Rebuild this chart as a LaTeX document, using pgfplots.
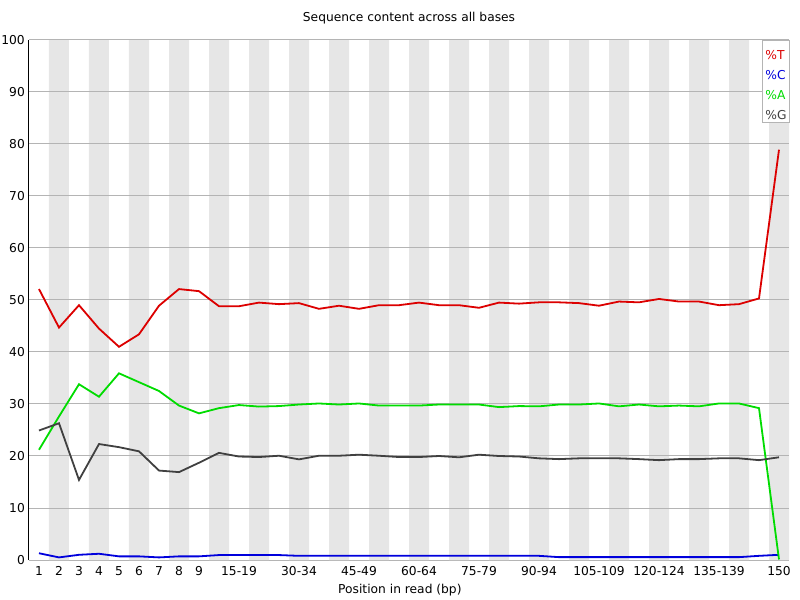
\documentclass[border=0pt]{standalone}
\usepackage{fontspec}
\setmainfont{DejaVu Sans}
\usepackage{pgfplots}
\pgfplotsset{compat=1.18}
\definecolor{cT}{RGB}{220,0,0}
\definecolor{cC}{RGB}{0,0,220}
\definecolor{cA}{RGB}{0,220,0}
\definecolor{cG}{RGB}{64,64,64}
\definecolor{stripe}{RGB}{230,230,230}
\definecolor{gridgray}{RGB}{180,180,180}
\begin{document}
\begin{tikzpicture}[font=\fontsize{12.3}{14}\selectfont]
\useasboundingbox (-29bp,-40bp) rectangle (771bp,560bp);
\begin{axis}[
  at={(0,0)}, anchor=south west,
  scale only axis, width=760bp, height=520bp,
  xmin=0.5, xmax=38.5, ymin=0, ymax=100,
  axis x line=bottom, axis y line=left,
  x axis line style={-, draw=gridgray, line width=1bp},
  y axis line style={-, draw=black, line width=1bp},
  major tick length=0pt,
  xtick={1,2,3,4,5,6,7,8,9,11,14,17,20,23,26,29,32,35,38},
  xticklabels={{1},{2},{3},{4},{5},{6},{7},{8},{9},{15-19},{30-34},{45-49},{60-64},{75-79},{90-94},{105-109},{120-124},{135-139},{150}},
  ytick={0,10,...,100},
  /pgf/number format/assume math mode=true,
  xticklabel style={anchor=base, yshift=-15bp},
  yticklabel style={anchor=east, inner sep=0pt, xshift=-4bp},
  title={Sequence content across all bases},
  title style={at={(0.5,1)}, anchor=base, yshift=12.5bp},
  xlabel={Position in read (bp)},
  xlabel style={at={(0.488,0)}, anchor=base, yshift=-33bp},
  legend image code/.code={},
  legend cell align=left,
  legend style={at={(1,1)}, anchor=north east, xshift=1bp, draw=gridgray, line width=1bp, fill=white,
    inner xsep=1bp, inner ysep=1bp, row sep=0bp,
    nodes={text height=16bp, text depth=0bp, inner sep=2bp}},
]
\addplot[ybar, bar width=1, fill=stripe, draw=none, forget plot]
  coordinates {(2,100)(4,100)(6,100)(8,100)(10,100)(12,100)(14,100)(16,100)(18,100)(20,100)(22,100)(24,100)(26,100)(28,100)(30,100)(32,100)(34,100)(36,100)(38,100)};
\addplot[gridgray, line width=1bp, forget plot] coordinates {(0.5,10)(38.5,10)};
\addplot[gridgray, line width=1bp, forget plot] coordinates {(0.5,20)(38.5,20)};
\addplot[gridgray, line width=1bp, forget plot] coordinates {(0.5,30)(38.5,30)};
\addplot[gridgray, line width=1bp, forget plot] coordinates {(0.5,40)(38.5,40)};
\addplot[gridgray, line width=1bp, forget plot] coordinates {(0.5,50)(38.5,50)};
\addplot[gridgray, line width=1bp, forget plot] coordinates {(0.5,60)(38.5,60)};
\addplot[gridgray, line width=1bp, forget plot] coordinates {(0.5,70)(38.5,70)};
\addplot[gridgray, line width=1bp, forget plot] coordinates {(0.5,80)(38.5,80)};
\addplot[gridgray, line width=1bp, forget plot] coordinates {(0.5,90)(38.5,90)};
\addplot[gridgray, line width=1bp, forget plot] coordinates {(0.5,100)(38.5,100)};
\addplot[cT, line width=1.8bp, mark=none] coordinates {
(1,52.1)(2,44.7)(3,49.0)(4,44.5)(5,41.0)(6,43.4)(7,48.9)(8,52.1)(9,51.7)(10,48.8)
(11,48.8)(12,49.5)(13,49.2)(14,49.4)(15,48.3)(16,48.9)(17,48.3)(18,49.0)(19,49.0)(20,49.5)
(21,49.0)(22,49.0)(23,48.5)(24,49.5)(25,49.3)(26,49.55)(27,49.55)(28,49.4)(29,48.9)(30,49.7)
(31,49.55)(32,50.2)(33,49.7)(34,49.7)(35,49.0)(36,49.2)(37,50.3)(38,78.9)};
\addlegendentry{\textcolor{cT}{\%T}}
\addplot[cC, line width=1.8bp, mark=none] coordinates {
(1,1.3)(2,0.5)(3,1.0)(4,1.2)(5,0.7)(6,0.7)(7,0.5)(8,0.7)(9,0.7)(10,0.95)
(11,0.95)(12,0.95)(13,0.95)(14,0.8)(15,0.8)(16,0.8)(17,0.8)(18,0.8)(19,0.8)(20,0.8)
(21,0.8)(22,0.8)(23,0.8)(24,0.8)(25,0.8)(26,0.8)(27,0.55)(28,0.55)(29,0.55)(30,0.55)
(31,0.55)(32,0.55)(33,0.55)(34,0.55)(35,0.55)(36,0.55)(37,0.8)(38,1.0)};
\addlegendentry{\textcolor{cC}{\%C}}
\addplot[cA, line width=1.8bp, mark=none] coordinates {
(1,21.2)(2,27.6)(3,33.8)(4,31.4)(5,35.9)(6,34.2)(7,32.5)(8,29.7)(9,28.2)(10,29.2)
(11,29.8)(12,29.5)(13,29.6)(14,29.9)(15,30.1)(16,29.9)(17,30.1)(18,29.7)(19,29.7)(20,29.7)
(21,29.9)(22,29.9)(23,29.9)(24,29.4)(25,29.6)(26,29.55)(27,29.9)(28,29.9)(29,30.1)(30,29.55)
(31,29.9)(32,29.55)(33,29.7)(34,29.55)(35,30.1)(36,30.1)(37,29.2)(38,0.1)};
\addlegendentry{\textcolor{cA}{\%A}}
\addplot[cG, line width=1.8bp, mark=none] coordinates {
(1,24.9)(2,26.3)(3,15.4)(4,22.3)(5,21.7)(6,20.9)(7,17.2)(8,16.9)(9,18.7)(10,20.6)
(11,19.9)(12,19.8)(13,20.05)(14,19.35)(15,20.05)(16,20.05)(17,20.25)(18,20.05)(19,19.8)(20,19.8)
(21,20.0)(22,19.75)(23,20.25)(24,20.0)(25,19.9)(26,19.55)(27,19.4)(28,19.55)(29,19.55)(30,19.55)
(31,19.4)(32,19.2)(33,19.4)(34,19.4)(35,19.55)(36,19.55)(37,19.2)(38,19.75)};
\addlegendentry{\textcolor{cG}{\%G}}
\end{axis}
\end{tikzpicture}
\end{document}
